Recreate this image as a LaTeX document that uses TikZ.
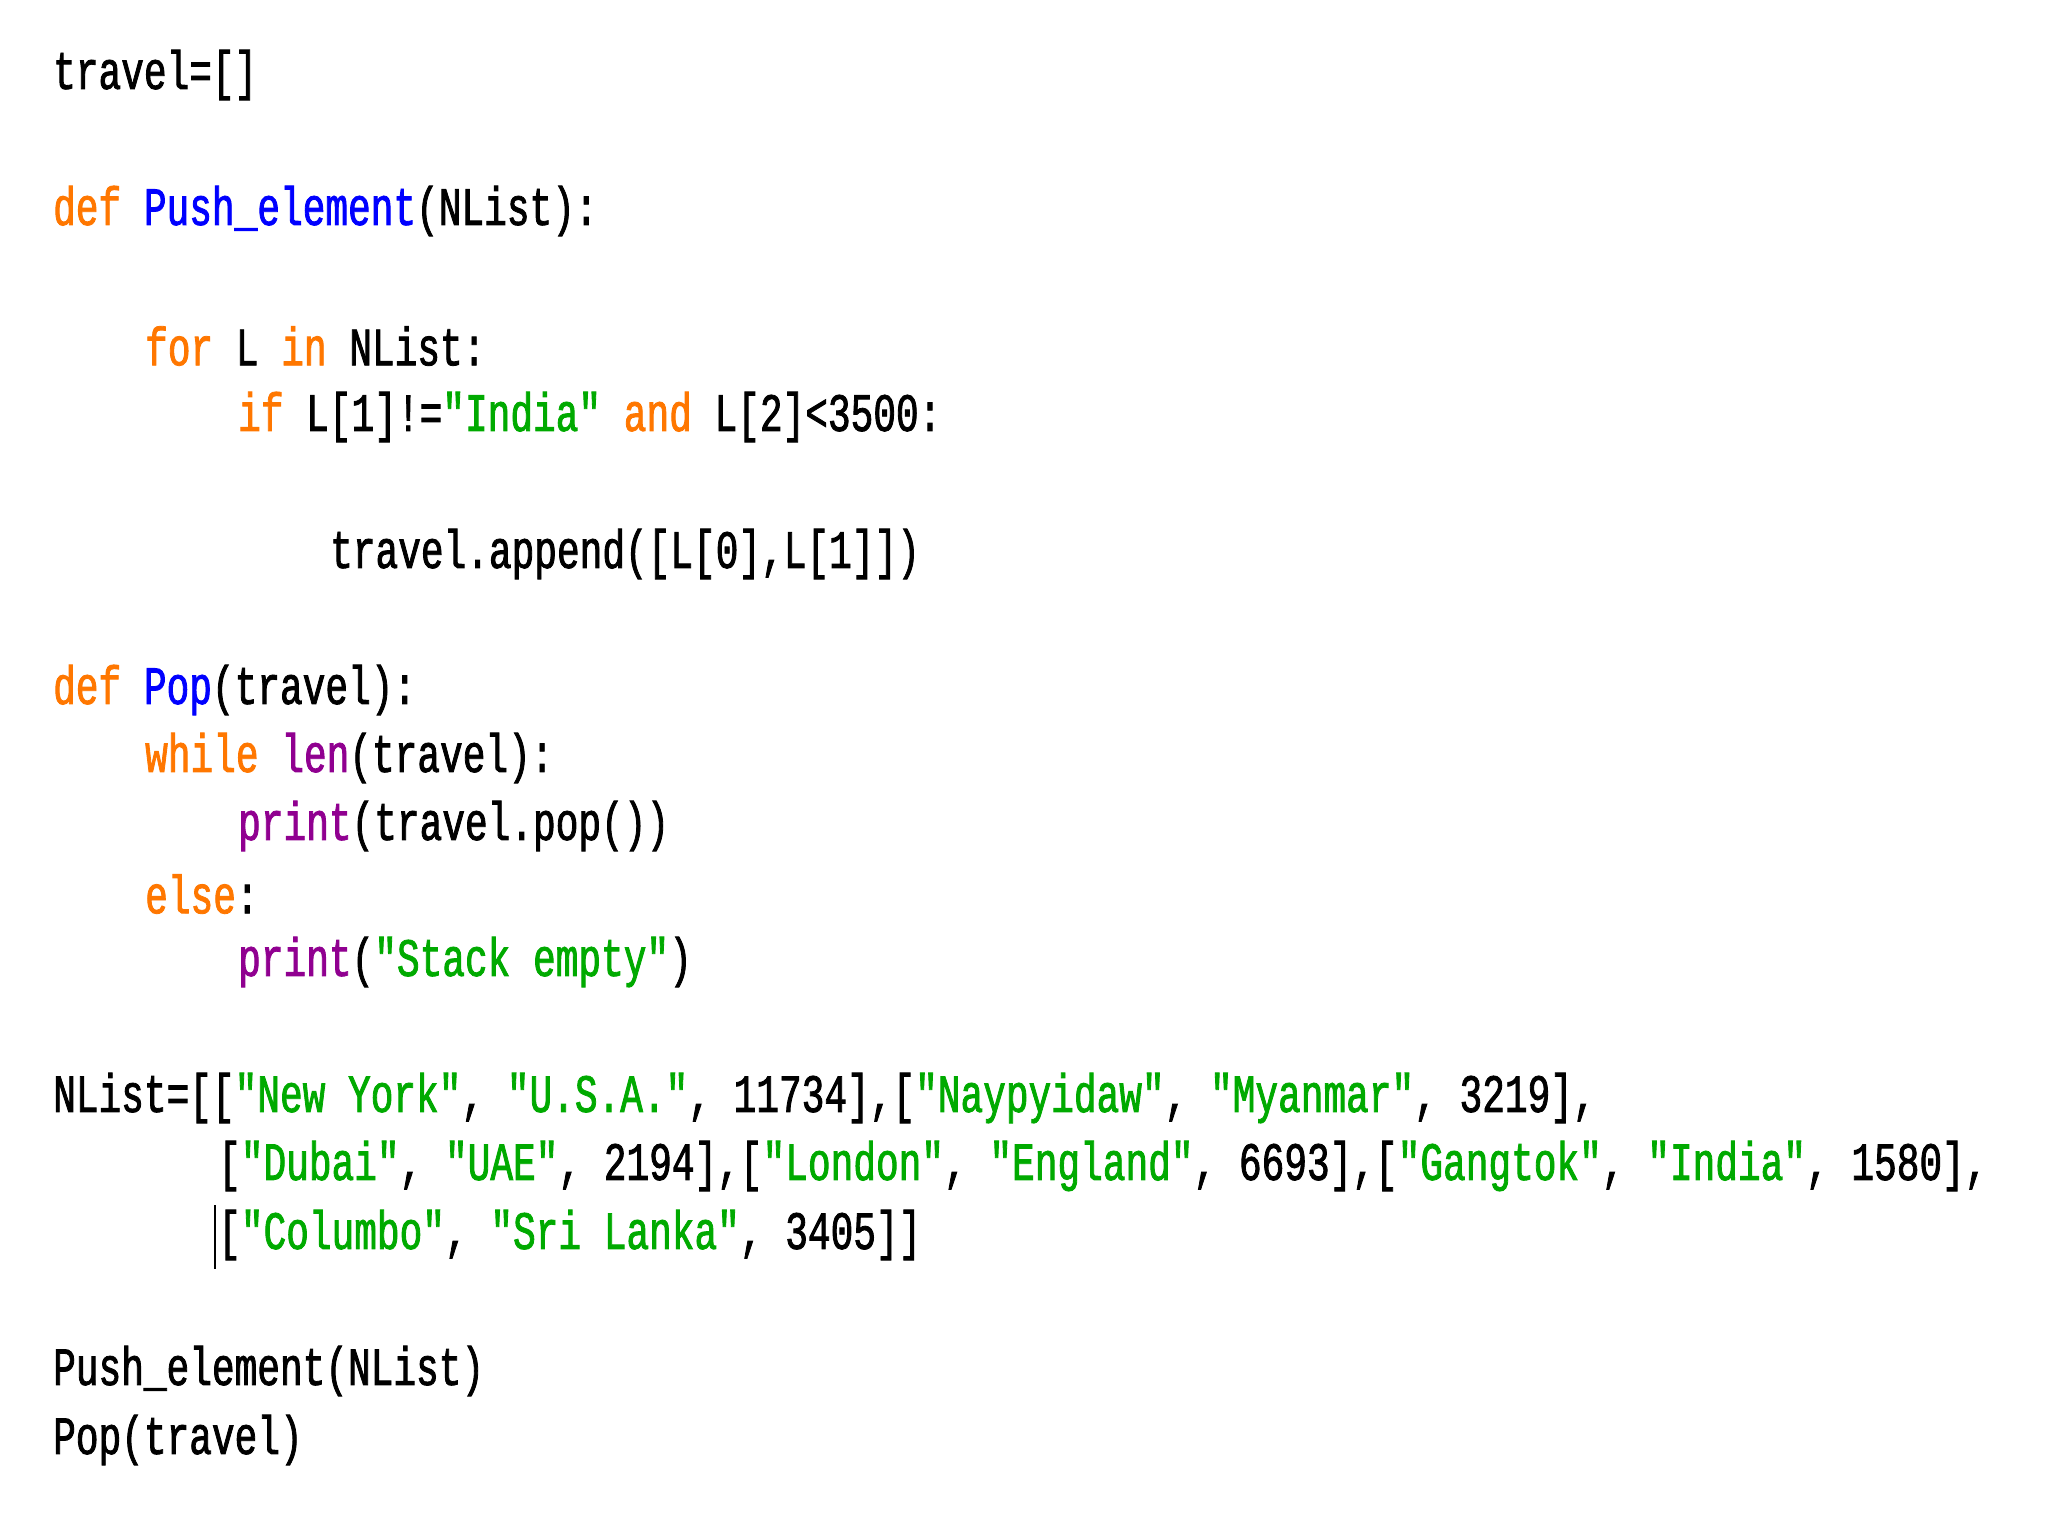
\documentclass[tikz,border=0pt]{standalone}
\usepackage{fontspec}
\newfontfamily\codefont[FakeStretch=0.70,FakeBold=1.5]{Liberation Mono}
\definecolor{kwc}{HTML}{FF7700}
\definecolor{fnc}{HTML}{0000FF}
\definecolor{bic}{HTML}{900090}
\definecolor{stc}{HTML}{00AA00}
\newcommand\kwd[1]{\textcolor{kwc}{#1}}
\newcommand\fnm[1]{\textcolor{fnc}{#1}}
\newcommand\bltn[1]{\textcolor{bic}{#1}}
\newcommand\strg[1]{\textcolor{stc}{#1}}
\begin{document}
\begin{tikzpicture}[x=1pt,y=1pt,
  code/.style={anchor=west,inner sep=0pt,font=\codefont\fontsize{54}{60}\selectfont}]
\useasboundingbox[fill=white] (0,0) rectangle (2048,-1536);
\node[code] (l1) at (53,-75) {travel=[]};
\node[code] (l2) at (53,-211) {\kwd{def} \fnm{Push\_element}(NList):};
\node[code] (l3) at (145,-346) {\kwd{for} L \kwd{in} NList:};
\node[code] (l4) at (238,-417) {\kwd{if} L[1]!=\strg{"India"} \kwd{and} L[2]<3500:};
\node[code] (l5) at (330,-554) {travel.append([L[0],L[1]])};
\node[code] (l6) at (53,-690) {\kwd{def} \fnm{Pop}(travel):};
\node[code] (l7) at (145,-758) {\kwd{while} \bltn{len}(travel):};
\node[code] (l8) at (238,-826) {\bltn{print}(travel.pop())};
\node[code] (l9) at (145,-894) {\kwd{else}:};
\node[code] (l10) at (238,-962) {\bltn{print}(\strg{"Stack empty"})};
\node[code] (l11) at (53,-1098) {NList=[[\strg{"New York"}, \strg{"U.S.A."}, 11734],[\strg{"Naypyidaw"}, \strg{"Myanmar"}, 3219],};
\node[code] (l12) at (218,-1166) {[\strg{"Dubai"}, \strg{"UAE"}, 2194],[\strg{"London"}, \strg{"England"}, 6693],[\strg{"Gangtok"}, \strg{"India"}, 1580],};
\node[code] (l13) at (218,-1235) {[\strg{"Columbo"}, \strg{"Sri Lanka"}, 3405]]};
\coordinate (c1) at (215,-1205);
\coordinate (c2) at (215,-1269);
\draw[line width=2pt] (c1) -- (c2);
\node[code] (l14) at (53,-1371) {Push\_element(NList)};
\node[code] (l15) at (53,-1440) {Pop(travel)};
\end{tikzpicture}
\end{document}
